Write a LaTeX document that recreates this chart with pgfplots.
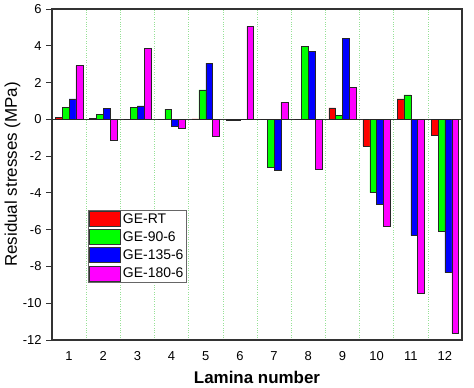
\documentclass[border=0pt]{standalone}
\usepackage{pgfplots}
\pgfplotsset{compat=1.18}
\usepackage{fontspec}
\setmainfont{Liberation Sans}
\definecolor{gridgreen}{RGB}{150,225,150}
\definecolor{cRT}{RGB}{255,0,0}
\definecolor{c90}{RGB}{0,255,0}
\definecolor{c135}{RGB}{0,0,255}
\definecolor{c180}{RGB}{255,0,255}
\begin{document}
\begin{tikzpicture}
\begin{axis}[
  scale only axis, width=410bp, height=331bp,
  xmin=0.5, xmax=12.5, ymin=-12, ymax=6,
  ybar=0pt, bar width=0.2,
  xtick={1,...,12},
  xticklabels={1,2,3,4,5,6,7,8,9,10,11,12},
  ytick={-12,-10,...,6},
  yticklabels={-12,-10,-8,-6,-4,-2,0,2,4,6},
  minor xtick={1.5,2.5,...,11.5},
  xminorgrids, minor grid style={gridgreen, dotted, line width=0.6pt},
  xtick style={draw=none}, minor tick length=0pt,
  ytick pos=left, tick align=outside,
  major tick length=6bp,
  ytick style={line width=0.9pt, black!80},
  axis line style={line width=1.1pt, black!80},
  tick label style={font=\fontsize{13}{15}\selectfont},
  xticklabel style={yshift=-2bp},
  yticklabel style={xshift=-1bp},
  xlabel={\textbf{Lamina number}},
  every axis x label/.style={at={(axis description cs:0.5,0)}, anchor=base, yshift=-43bp, font=\fontsize{17}{20}\selectfont},
  ylabel={Residual stresses (MPa)},
  every axis y label/.style={at={(axis description cs:0,0.5)}, rotate=90, anchor=base, yshift=35bp, font=\fontsize{17}{20}\selectfont},
  extra y ticks={0}, extra y tick labels={},
  extra y tick style={grid=major, major grid style={black!80, line width=1pt}, major tick length=0pt},
  legend cell align=left,
  legend image code/.code={\draw[#1, draw=black!80, line width=0.6pt] (0bp,-7.5bp) rectangle (31bp,7.5bp);},
  legend style={at={(0.088,0.393)}, anchor=north west, draw=black!60, line width=0.6pt,
    font=\fontsize{14}{16}\selectfont, inner sep=1bp, row sep=2.5bp,
    /tikz/every even column/.append style={column sep=2bp}},
  every axis plot/.append style={draw=black!85, line width=0.5pt},
]
\addplot[fill=cRT] coordinates {(1,0.09) (2,0.05) (3,-0.02) (4,0) (5,0.03) (6,-0.04) (7,0) (8,0) (9,0.62) (10,-1.44) (11,1.11) (12,-0.89)};
\addplot[fill=c90] coordinates {(1,0.65) (2,0.27) (3,0.65) (4,0.56) (5,1.6) (6,-0.05) (7,-2.6) (8,3.96) (9,0.22) (10,-3.98) (11,1.33) (12,-6.07)};
\addplot[fill=c135] coordinates {(1,1.11) (2,0.58) (3,0.73) (4,-0.35) (5,3.05) (6,0) (7,-2.77) (8,3.69) (9,4.4) (10,-4.62) (11,-6.33) (12,-8.33)};
\addplot[fill=c180] coordinates {(1,2.92) (2,-1.15) (3,3.84) (4,-0.49) (5,-0.93) (6,5.05) (7,0.93) (8,-2.69) (9,1.75) (10,-5.82) (11,-9.44) (12,-11.64)};
\legend{GE-RT,GE-90-6,GE-135-6,GE-180-6}
\end{axis}
\path (current axis.south west) ++(-52bp,-48bp) coordinate (bbA);
\path (current axis.north east) ++(12bp,9bp) coordinate (bbB);
\pgfresetboundingbox
\useasboundingbox (bbA) rectangle (bbB);
\end{tikzpicture}
\end{document}
